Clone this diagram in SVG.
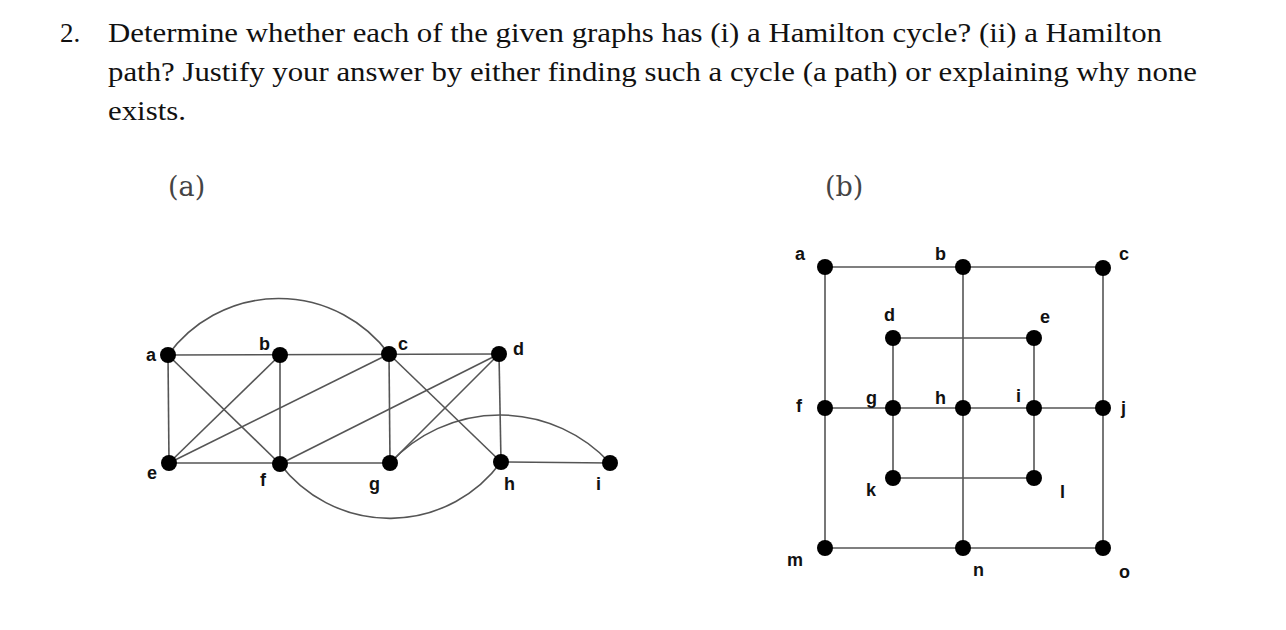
<svg xmlns="http://www.w3.org/2000/svg" width="1286" height="630" viewBox="0 0 1286 630">
<style>
.t{font-family:"Liberation Serif",serif;font-size:27px;fill:#111}
.p{font-family:"DejaVu Serif","Liberation Serif",serif;font-size:27px;fill:#444}
.l{font-family:"Liberation Sans",sans-serif;font-weight:bold;font-size:18px;fill:#111}
line,path{stroke:#555;stroke-width:1.6;fill:none}
circle{fill:#000}
</style>
<rect width="1286" height="630" fill="#fff"/>
<text class="t" x="60" y="42">2.</text>
<text class="t" x="108" y="42" textLength="1054" lengthAdjust="spacingAndGlyphs">Determine whether each of the given graphs has (i) a Hamilton cycle? (ii) a Hamilton</text>
<text class="t" x="108" y="81" textLength="1089" lengthAdjust="spacingAndGlyphs">path? Justify your answer by either finding such a cycle (a path) or explaining why none</text>
<text class="t" x="108" y="120" textLength="78" lengthAdjust="spacingAndGlyphs">exists.</text>
<text class="p" x="168" y="196">(a)</text>
<text class="p" x="825" y="196">(b)</text>
<g id="edges-a">
<line x1="168" y1="355" x2="499" y2="354"/>
<line x1="168" y1="355" x2="169" y2="463"/>
<line x1="169" y1="463" x2="390" y2="463"/>
<line x1="501" y1="462" x2="610" y2="463"/>
<line x1="168" y1="355" x2="280" y2="464"/>
<line x1="280" y1="355" x2="169" y2="463"/>
<line x1="280" y1="355" x2="280" y2="464"/>
<line x1="389" y1="354" x2="169" y2="463"/>
<line x1="389" y1="354" x2="390" y2="463"/>
<line x1="389" y1="354" x2="501" y2="462"/>
<line x1="499" y1="354" x2="280" y2="464"/>
<line x1="499" y1="354" x2="390" y2="463"/>
<line x1="499" y1="354" x2="501" y2="462"/>
<path d="M168 355 A137 137 0 0 1 389 354"/>
<path d="M280 464 A138 138 0 0 0 501 462"/>
<path d="M390 463 A150 150 0 0 1 610 463"/>
</g>
<g id="edges-b">
<line x1="825" y1="267" x2="1103" y2="267"/>
<line x1="825" y1="267" x2="825" y2="548"/>
<line x1="1103" y1="267" x2="1103" y2="548"/>
<line x1="825" y1="548" x2="1103" y2="548"/>
<line x1="963" y1="267" x2="963" y2="548"/>
<line x1="825" y1="408" x2="1103" y2="408"/>
<line x1="893" y1="338" x2="1034" y2="338"/>
<line x1="893" y1="478" x2="1034" y2="478"/>
<line x1="893" y1="338" x2="893" y2="478"/>
<line x1="1034" y1="338" x2="1034" y2="478"/>
</g>
<g id="a-a"><circle cx="168" cy="355" r="8"/><text class="l" x="146" y="361">a</text></g>
<g id="a-b"><circle cx="280" cy="355" r="8"/><text class="l" x="259" y="350">b</text></g>
<g id="a-c"><circle cx="389" cy="354" r="8"/><text class="l" x="398" y="350">c</text></g>
<g id="a-d"><circle cx="499" cy="354" r="8"/><text class="l" x="513" y="355">d</text></g>
<g id="a-e"><circle cx="169" cy="463" r="8"/><text class="l" x="147" y="479">e</text></g>
<g id="a-f"><circle cx="280" cy="464" r="8"/><text class="l" x="260" y="486">f</text></g>
<g id="a-g"><circle cx="390" cy="463" r="8"/><text class="l" x="369" y="490">g</text></g>
<g id="a-h"><circle cx="501" cy="462" r="8"/><text class="l" x="504" y="490">h</text></g>
<g id="a-i"><circle cx="610" cy="463" r="8"/><text class="l" x="596" y="490">i</text></g>
<g id="b-a"><circle cx="825" cy="267" r="8"/><text class="l" x="795" y="260">a</text></g>
<g id="b-b"><circle cx="963" cy="267" r="8"/><text class="l" x="935" y="260">b</text></g>
<g id="b-c"><circle cx="1103" cy="268" r="8"/><text class="l" x="1119" y="260">c</text></g>
<g id="b-d"><circle cx="893" cy="338" r="8"/><text class="l" x="884" y="321">d</text></g>
<g id="b-e"><circle cx="1034" cy="338" r="8"/><text class="l" x="1040" y="323">e</text></g>
<g id="b-f"><circle cx="825" cy="408" r="8"/><text class="l" x="796" y="412">f</text></g>
<g id="b-g"><circle cx="893" cy="408" r="8"/><text class="l" x="866" y="404">g</text></g>
<g id="b-h"><circle cx="963" cy="408" r="8"/><text class="l" x="935" y="404">h</text></g>
<g id="b-i"><circle cx="1034" cy="408" r="8"/><text class="l" x="1016" y="402">i</text></g>
<g id="b-j"><circle cx="1103" cy="408" r="8"/><text class="l" x="1121" y="414">j</text></g>
<g id="b-k"><circle cx="893" cy="478" r="8"/><text class="l" x="866" y="496">k</text></g>
<g id="b-l"><circle cx="1034" cy="478" r="8"/><text class="l" x="1060" y="498">l</text></g>
<g id="b-m"><circle cx="825" cy="548" r="8"/><text class="l" x="787" y="566">m</text></g>
<g id="b-n"><circle cx="963" cy="548" r="8"/><text class="l" x="973" y="576">n</text></g>
<g id="b-o"><circle cx="1103" cy="548" r="8"/><text class="l" x="1119" y="578">o</text></g>
</svg>
